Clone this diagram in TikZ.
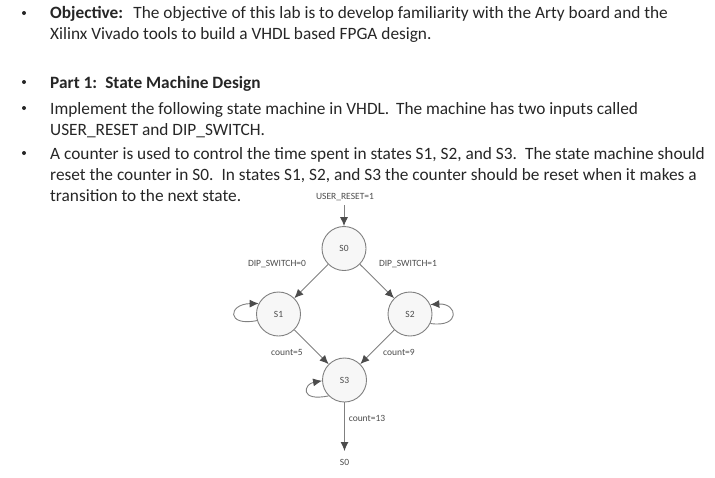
\documentclass[tikz,border=0pt]{standalone}
\usepackage{fontspec}
\setmainfont{Carlito}
\usetikzlibrary{arrows.meta}
\definecolor{linegray}{gray}{0.5}
\definecolor{textgray}{gray}{0.3}
\tikzset{
  state/.style={circle,draw=linegray,line width=0.9pt,fill=black!3,minimum size=44pt,inner sep=0pt,font=\fontsize{9.5}{10}\selectfont,text=textgray},
  trans/.style={draw=linegray,line width=0.9pt,-{Latex[length=9pt,width=8pt,color=black!70]}},
  lab/.style={font=\fontsize{9.5}{10}\selectfont,text=textgray,inner sep=0pt},
  body/.style={anchor=base west,inner sep=0pt,font=\fontsize{17.3}{18}\selectfont,text=black!85},
  dot/.style={circle,fill=black!85,inner sep=0pt,minimum size=4pt}
}
\begin{document}
\begin{tikzpicture}[x=1pt,y=-1pt]
\useasboundingbox (0,0) rectangle (715,477);
% bullets
\node[dot] (b1) at (24,13) {};
\node[dot] (b2) at (24,82) {};
\node[dot] (b3) at (24,108) {};
\node[dot] (b4) at (24,153) {};
% text
\node[body] (t1) at (50,18) {\textbf{Objective:}\kern5pt{} The objective of this lab is to develop familiarity with the Arty board and the};
\node[body] (t2) at (50,39) {Xilinx Vivado tools to build a VHDL based FPGA design.};
\node[body] (t3) at (50,88) {\textbf{Part 1:\, State Machine Design}};
\node[body] (t4) at (50,114) {Implement the following state machine in VHDL.\, The machine has two inputs called};
\node[body] (t5) at (50,135) {USER\_RESET and DIP\_SWITCH.};
\node[body] (t6) at (50,159) {A counter is used to control the time spent in states S1, S2, and S3.\, The state machine should};
\node[body] (t7) at (50,180) {reset the counter in S0.\, In states S1, S2, and S3 the counter should be reset when it makes a};
\node[body] (t8) at (50,201) {transition to the next state.};
% states
\node[state] (s0) at (344,248.5) {S0};
\node[state] (s1) at (278.5,314) {S1};
\node[state] (s2) at (410,314) {S2};
\node[state] (s3) at (344.5,380) {S3};
\node[lab] (reset) at (345,197) {USER\_RESET=1};
\node[lab] (next) at (344.5,462) {S0};
\coordinate (resetend) at (344,205);
\coordinate (nextend) at (344.5,451);
% transitions
\draw[trans] (resetend) -- (s0);
\draw[trans] (s0) -- (s1);
\draw[trans] (s0) -- (s2);
\draw[trans] (s1) -- (s3);
\draw[trans] (s2) -- (s3);
\draw[trans] (s3) -- (nextend);
\draw[trans] (s1.197) .. controls (226,327) and (228,304) .. (s1.152);
\draw[trans] (s2.335) .. controls (461,328) and (458,303) .. (s2.25);
\draw[trans] (s3.225) .. controls (299,402) and (304,384) .. (s3.182);
% labels
\node[lab] (dip0) at (277,264) {DIP\_SWITCH=0};
\node[lab] (dip1) at (408,264) {DIP\_SWITCH=1};
\node[lab] (c5) at (287,352) {count=5};
\node[lab] (c9) at (399,352) {count=9};
\node[lab] (c13) at (367,418) {count=13};
\end{tikzpicture}
\end{document}
